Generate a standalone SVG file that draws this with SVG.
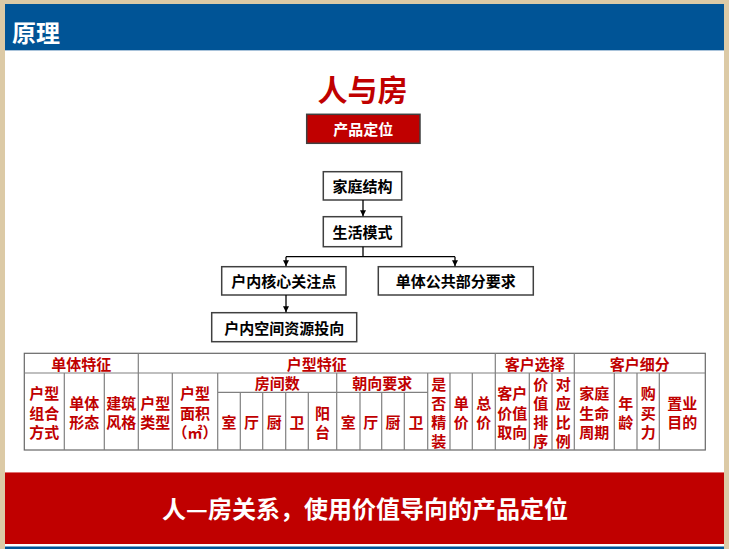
<svg xmlns="http://www.w3.org/2000/svg" width="729" height="549" viewBox="0 0 729 549">
<style>
text{font-family:"Noto Sans CJK SC","Microsoft YaHei",sans-serif;font-weight:bold;}
.box{fill:#fff;stroke:#404040;stroke-width:1.5;}
.bt{font-size:15px;fill:#000;text-anchor:middle;dominant-baseline:central;}
.conn{fill:none;stroke:#000;stroke-width:1.3;}
.g{stroke:#808080;stroke-width:1.2;fill:none;}
.r{font-size:15px;fill:#C00000;text-anchor:middle;dominant-baseline:central;}
</style>
<defs>
<marker id="ah" viewBox="0 0 10 10" refX="10" refY="5" markerWidth="6" markerHeight="6" orient="auto" markerUnits="userSpaceOnUse"><path d="M0,0 L10,5 L0,10 z" fill="#000"/></marker>
</defs>
<rect x="0" y="0" width="729" height="549" fill="#DCCAA6"/>
<rect x="5" y="50" width="719" height="497" fill="#fff"/>
<g id="header">
<rect x="5" y="4" width="719" height="46" fill="#005496"/>
<line x1="5" y1="50.5" x2="724" y2="50.5" stroke="#A9C3DA" stroke-width="1"/>
<text x="12" y="31.5" font-size="24" fill="#fff" dominant-baseline="central">原理</text>
</g>
<g id="title">
<text x="362.5" y="87.5" font-size="30" fill="#C00000" text-anchor="middle" dominant-baseline="central">人与房</text>
</g>
<g id="n-product">
<rect x="306.7" y="114.3" width="113.3" height="29" fill="#C00000" stroke="#404040" stroke-width="1.5"/>
<text x="363.3" y="128.8" font-size="15" fill="#fff" text-anchor="middle" dominant-baseline="central">产品定位</text>
</g>
<g id="n-family">
<rect class="box" x="323.3" y="171.7" width="78.4" height="28.3"/>
<text class="bt" x="362.5" y="185.8">家庭结构</text>
</g>
<g id="n-life">
<rect class="box" x="323.3" y="216.7" width="78.4" height="30"/>
<text class="bt" x="362.5" y="231.7">生活模式</text>
</g>
<g id="n-core">
<rect class="box" x="221.7" y="266.7" width="124.3" height="28.3"/>
<text class="bt" x="283.8" y="280.8">户内核心关注点</text>
</g>
<g id="n-public">
<rect class="box" x="378.3" y="266.7" width="155" height="28.3"/>
<text class="bt" x="455.8" y="280.8">单体公共部分要求</text>
</g>
<g id="n-space">
<rect class="box" x="211.7" y="312.7" width="145" height="29"/>
<text class="bt" x="284.2" y="327.2">户内空间资源投向</text>
</g>
<g id="connectors">
<line class="conn" x1="363" y1="200" x2="363" y2="216.2" marker-end="url(#ah)"/>
<polyline class="conn" points="363,246.7 363,256.7"/>
<line class="conn" x1="286" y1="256.7" x2="455" y2="256.7"/>
<line class="conn" x1="286" y1="256.7" x2="286" y2="266.2" marker-end="url(#ah)"/>
<line class="conn" x1="455" y1="256.7" x2="455" y2="266.2" marker-end="url(#ah)"/>
<line class="conn" x1="286" y1="295" x2="286" y2="312.2" marker-end="url(#ah)"/>
</g>
<g id="table">
<rect x="24.3" y="353.3" width="681" height="96.7" fill="#fff" stroke="#666" stroke-width="1.2"/>
<path class="g" d="M24.3,373H705.3 M217.7,392.3H427.7
M138.3,353.3V450 M495.3,353.3V450 M574.3,353.3V450
M64.3,373V450 M104.3,373V450 M172.3,373V450 M217.7,373V450 M336.7,373V450 M427.7,373V450 M450,373V450 M472.3,373V450 M529.3,373V450 M552,373V450 M614.3,373V450 M637,373V450 M659.3,373V450
M240.3,392.3V450 M262.7,392.3V450 M285.7,392.3V450 M308.3,392.3V450 M360,392.3V450 M381.7,392.3V450 M404.3,392.3V450"/>
<text class="r" x="81.3" y="363">单体特征</text>
<text class="r" x="316.8" y="363">户型特征</text>
<text class="r" x="534.8" y="363">客户选择</text>
<text class="r" x="639.8" y="363">客户细分</text>
<text class="r" x="277.2" y="382.7">房间数</text>
<text class="r" x="382.2" y="382.7">朝向要求</text>
<text class="r" x="44.3" y="392.3"><tspan x="44.3">户型</tspan><tspan x="44.3" dy="19.2">组合</tspan><tspan x="44.3" dy="19.2">方式</tspan></text>
<text class="r" x="84.3" y="401.9"><tspan x="84.3">单体</tspan><tspan x="84.3" dy="19.2">形态</tspan></text>
<text class="r" x="121.3" y="401.9"><tspan x="121.3">建筑</tspan><tspan x="121.3" dy="19.2">风格</tspan></text>
<text class="r" x="155.3" y="401.9"><tspan x="155.3">户型</tspan><tspan x="155.3" dy="19.2">类型</tspan></text>
<text class="r" x="195" y="392.3"><tspan x="195">户型</tspan><tspan x="195" dy="19.2">面积</tspan><tspan x="195" dy="19.2">（㎡）</tspan></text>
<text class="r" x="229" y="421.2">室</text>
<text class="r" x="251.5" y="421.2">厅</text>
<text class="r" x="274.2" y="421.2">厨</text>
<text class="r" x="297" y="421.2">卫</text>
<text class="r" x="322.5" y="411.6"><tspan x="322.5">阳</tspan><tspan x="322.5" dy="19.2">台</tspan></text>
<text class="r" x="348.3" y="421.2">室</text>
<text class="r" x="370.8" y="421.2">厅</text>
<text class="r" x="393" y="421.2">厨</text>
<text class="r" x="416" y="421.2">卫</text>
<text class="r" x="438.8" y="382.7"><tspan x="438.8">是</tspan><tspan x="438.8" dy="19.2">否</tspan><tspan x="438.8" dy="19.2">精</tspan><tspan x="438.8" dy="19.2">装</tspan></text>
<text class="r" x="461.2" y="401.9"><tspan x="461.2">单</tspan><tspan x="461.2" dy="19.2">价</tspan></text>
<text class="r" x="483.8" y="401.9"><tspan x="483.8">总</tspan><tspan x="483.8" dy="19.2">价</tspan></text>
<text class="r" x="512.3" y="392.3"><tspan x="512.3">客户</tspan><tspan x="512.3" dy="19.2">价值</tspan><tspan x="512.3" dy="19.2">取向</tspan></text>
<text class="r" x="540.7" y="382.7"><tspan x="540.7">价</tspan><tspan x="540.7" dy="19.2">值</tspan><tspan x="540.7" dy="19.2">排</tspan><tspan x="540.7" dy="19.2">序</tspan></text>
<text class="r" x="563.2" y="382.7"><tspan x="563.2">对</tspan><tspan x="563.2" dy="19.2">应</tspan><tspan x="563.2" dy="19.2">比</tspan><tspan x="563.2" dy="19.2">例</tspan></text>
<text class="r" x="594.3" y="392.3"><tspan x="594.3">家庭</tspan><tspan x="594.3" dy="19.2">生命</tspan><tspan x="594.3" dy="19.2">周期</tspan></text>
<text class="r" x="625.7" y="401.9"><tspan x="625.7">年</tspan><tspan x="625.7" dy="19.2">龄</tspan></text>
<text class="r" x="648.2" y="392.3"><tspan x="648.2">购</tspan><tspan x="648.2" dy="19.2">买</tspan><tspan x="648.2" dy="19.2">力</tspan></text>
<text class="r" x="682.3" y="401.9"><tspan x="682.3">置业</tspan><tspan x="682.3" dy="19.2">目的</tspan></text>
</g>
<g id="banner">
<rect x="5" y="472" width="719" height="72" fill="#C00000"/>
<line x1="5" y1="472.5" x2="724" y2="472.5" stroke="#E07070" stroke-width="1"/>
<text x="365" y="507.5" font-size="24" fill="#fff" text-anchor="middle" dominant-baseline="central">人—房关系，使用价值导向的产品定位</text>
<rect x="5" y="546.5" width="719" height="2.5" fill="#005496"/>
</g>
</svg>
